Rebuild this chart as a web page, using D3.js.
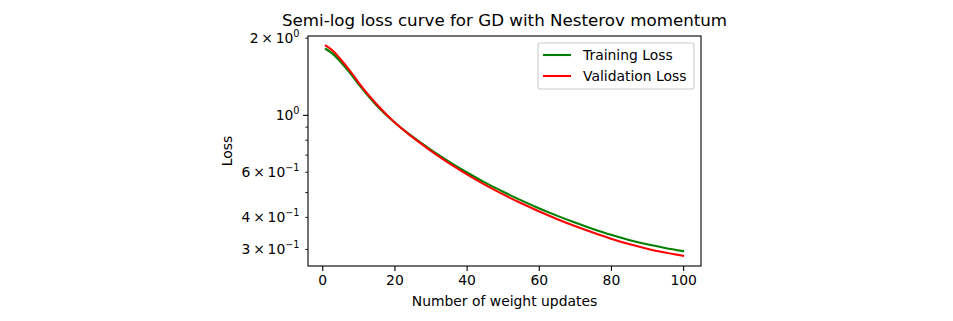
<!DOCTYPE html>
<html>
<head>
<meta charset="utf-8">
<script src="https://cdn.jsdelivr.net/npm/d3@7"></script>
<style>
  body { margin: 0; background: #fff; }
  svg text { font-family: "DejaVu Sans", sans-serif; fill: #000; }
</style>
</head>
<body>
<svg id="chart" width="953" height="321"></svg>
<script>
const updates = [1, 3, 5, 8, 10, 15, 20, 25, 30, 35, 40, 45, 50, 55, 60, 65, 70, 75, 80, 85, 90, 95, 100];
const trainLoss = [1.815, 1.734, 1.622, 1.445, 1.327, 1.096, 0.940, 0.826, 0.736, 0.662, 0.600, 0.548, 0.505, 0.467, 0.4345, 0.4064, 0.3819, 0.3606, 0.3420, 0.3266, 0.3141, 0.3041, 0.2955];
const valLoss = [1.870, 1.782, 1.660, 1.472, 1.346, 1.107, 0.940, 0.822, 0.729, 0.653, 0.590, 0.537, 0.493, 0.455, 0.4227, 0.3945, 0.3702, 0.3491, 0.3304, 0.3148, 0.3020, 0.2917, 0.2832];

const xTicks = [0, 20, 40, 60, 80, 100];
const yMajor = [1];
const yMinor = [0.3, 0.4, 0.5, 0.6, 0.7, 0.8, 0.9, 2];
// labels: [value, mantissa, exponent]
const yLabels = [[2, '2', '0'], [1, '', '0'], [0.6, '6', '\u22121'], [0.4, '4', '\u22121'], [0.3, '3', '\u22121']];

const series = [
  { name: 'Training Loss', values: trainLoss, color: 'green' },
  { name: 'Validation Loss', values: valLoss, color: 'red' }
];

const svg = d3.select('#chart');
const plotL = 308, plotR = 701, plotT = 36, plotB = 266;

const x = d3.scaleLinear().domain([-3.95, 104.95]).range([plotL, plotR]);
const y = d3.scaleLog().domain([0.2585, 2.04]).range([plotB, plotT]);

// lines
const line = d3.line()
  .x((d, i) => x(updates[i]))
  .y(d => y(d))
  .curve(d3.curveMonotoneX);

series.forEach(s => {
  svg.append('path')
    .datum(s.values)
    .attr('fill', 'none')
    .attr('stroke', s.color)
    .attr('stroke-width', 2.1)
    .attr('stroke-linejoin', 'round')
    .attr('stroke-linecap', 'square')
    .attr('d', line);
});

// frame
svg.append('rect')
  .attr('x', plotL).attr('y', plotT)
  .attr('width', plotR - plotL).attr('height', plotB - plotT)
  .attr('fill', 'none').attr('stroke', '#000').attr('stroke-width', 1.1);

// x axis
const xAxis = svg.append('g')
  .attr('transform', `translate(0,${plotB})`)
  .call(d3.axisBottom(x).tickValues(xTicks).tickSize(4.9).tickPadding(4.5));
xAxis.select('.domain').remove();
xAxis.selectAll('line').attr('stroke-width', 1.1);
xAxis.selectAll('text').attr('font-size', 13.9).attr('font-family', '"DejaVu Sans", sans-serif');

// y axis ticks
const yg = svg.append('g');
yMajor.forEach(v => {
  yg.append('line').attr('x1', plotL - 4.9).attr('x2', plotL)
    .attr('y1', y(v)).attr('y2', y(v)).attr('stroke', '#000').attr('stroke-width', 1.1);
});
yMinor.forEach(v => {
  yg.append('line').attr('x1', plotL - 2.8).attr('x2', plotL)
    .attr('y1', y(v)).attr('y2', y(v)).attr('stroke', '#000').attr('stroke-width', 0.84);
});
yLabels.forEach(([v, m, e]) => {
  const t = yg.append('text')
    .attr('x', plotL - 8.5)
    .attr('y', y(v) + 5)
    .attr('text-anchor', 'end')
    .attr('font-size', 13.9);
  t.append('tspan').text(m ? m + '\u2009\u00d7\u200910' : '10');
  t.append('tspan').attr('dy', -6).attr('font-size', 9.7).text(e);
});

// axis labels and title
svg.append('text')
  .attr('x', (plotL + plotR) / 2).attr('y', 306)
  .attr('text-anchor', 'middle').attr('font-size', 13.9)
  .text('Number of weight updates');

svg.append('text')
  .attr('transform', `translate(232,${(plotT + plotB) / 2}) rotate(-90)`)
  .attr('text-anchor', 'middle').attr('font-size', 13.9)
  .text('Loss');

svg.append('text')
  .attr('x', (plotL + plotR) / 2).attr('y', 26)
  .attr('text-anchor', 'middle').attr('font-size', 16.7)
  .text('Semi-log loss curve for GD with Nesterov momentum');

// legend
const lg = svg.append('g').attr('transform', 'translate(538,43)');
lg.append('rect')
  .attr('width', 156).attr('height', 46).attr('rx', 2.5)
  .attr('fill', '#fff').attr('fill-opacity', 0.8)
  .attr('stroke', '#ccc').attr('stroke-width', 1.1);
series.forEach((s, i) => {
  const cy = 12 + i * 21;
  lg.append('line').attr('x1', 5).attr('x2', 33).attr('y1', cy).attr('y2', cy)
    .attr('stroke', s.color).attr('stroke-width', 2.1);
  lg.append('text').attr('x', 45).attr('y', cy + 5).attr('font-size', 13.9).text(s.name);
});
</script>
</body>
</html>
